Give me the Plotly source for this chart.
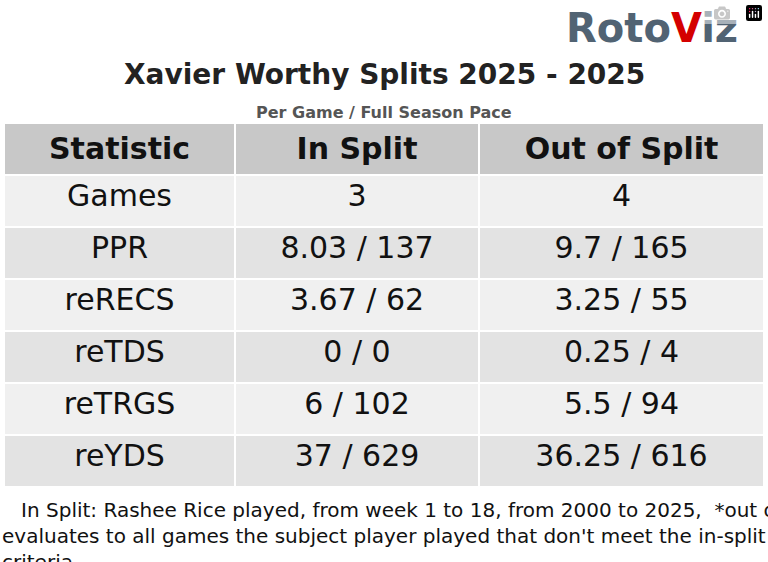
import plotly.graph_objects as go

headers = ["Statistic", "In Split", "Out of Split"]
stats = ["Games", "PPR", "reRECS", "reTDS", "reTRGS", "reYDS"]
in_split = ["3", "8.03 / 137", "3.67 / 62", "0 / 0", "6 / 102", "37 / 629"]
out_split = ["4", "9.7 / 165", "3.25 / 55", "0.25 / 4", "5.5 / 94", "36.25 / 616"]

H = 562
fill = [["#f0f0f0" if i % 2 == 0 else "#e3e3e3" for i in range(len(stats))]] * 3

fig = go.Figure(go.Table(
    columnwidth=[231, 244, 285],
    domain=dict(x=[4/768, 764/768], y=[0, 1 - 123/H]),
    header=dict(values=[f"<b>{h}</b>" for h in headers], fill_color="#c8c8c8",
                line=dict(color="white", width=2), height=52, align="center",
                font=dict(family="DejaVu Sans", size=30, color="#111")),
    cells=dict(values=[stats, in_split, out_split], fill_color=fill,
               line=dict(color="white", width=2), height=52, align="center",
               font=dict(family="DejaVu Sans", size=30, color="#111")),
))

fig.update_layout(
    width=768, height=562, margin=dict(l=0, r=0, t=0, b=0),
    paper_bgcolor="white",
    annotations=[
        dict(text="<b>Xavier Worthy Splits 2025 - 2025</b>", x=0.5, y=1 - 74/H, xref="paper", yref="paper",
             xanchor="center", yanchor="middle",
             showarrow=False, font=dict(family="DejaVu Sans", size=28, color="#222")),
        dict(text="<b>Per Game / Full Season Pace</b>", x=0.5, y=1 - 112/H, xref="paper", yref="paper",
             xanchor="center", yanchor="middle",
             showarrow=False, font=dict(family="DejaVu Sans", size=16, color="#555")),
        dict(text="<b>Roto<span style='color:#d40000'>V</span>iz</b>", x=652/768, y=1 - 28/H, xref="paper", yref="paper",
             xanchor="center", yanchor="middle",
             showarrow=False, font=dict(family="DejaVu Sans", size=40, color="#516373")),
        dict(text="   In Split: Rashee Rice played, from week 1 to 18, from 2000 to 2025,  *out of split<br>"
                  "evaluates to all games the subject player played that don't meet the in-split<br>criteria",
             x=0, y=1 - 496/H, xref="paper", yref="paper", xanchor="left", yanchor="top", align="left",
             showarrow=False, font=dict(family="DejaVu Sans", size=20, color="#111")),
    ],
)
fig.write_html("out.html", post_script="document.body.style.margin='0';")
